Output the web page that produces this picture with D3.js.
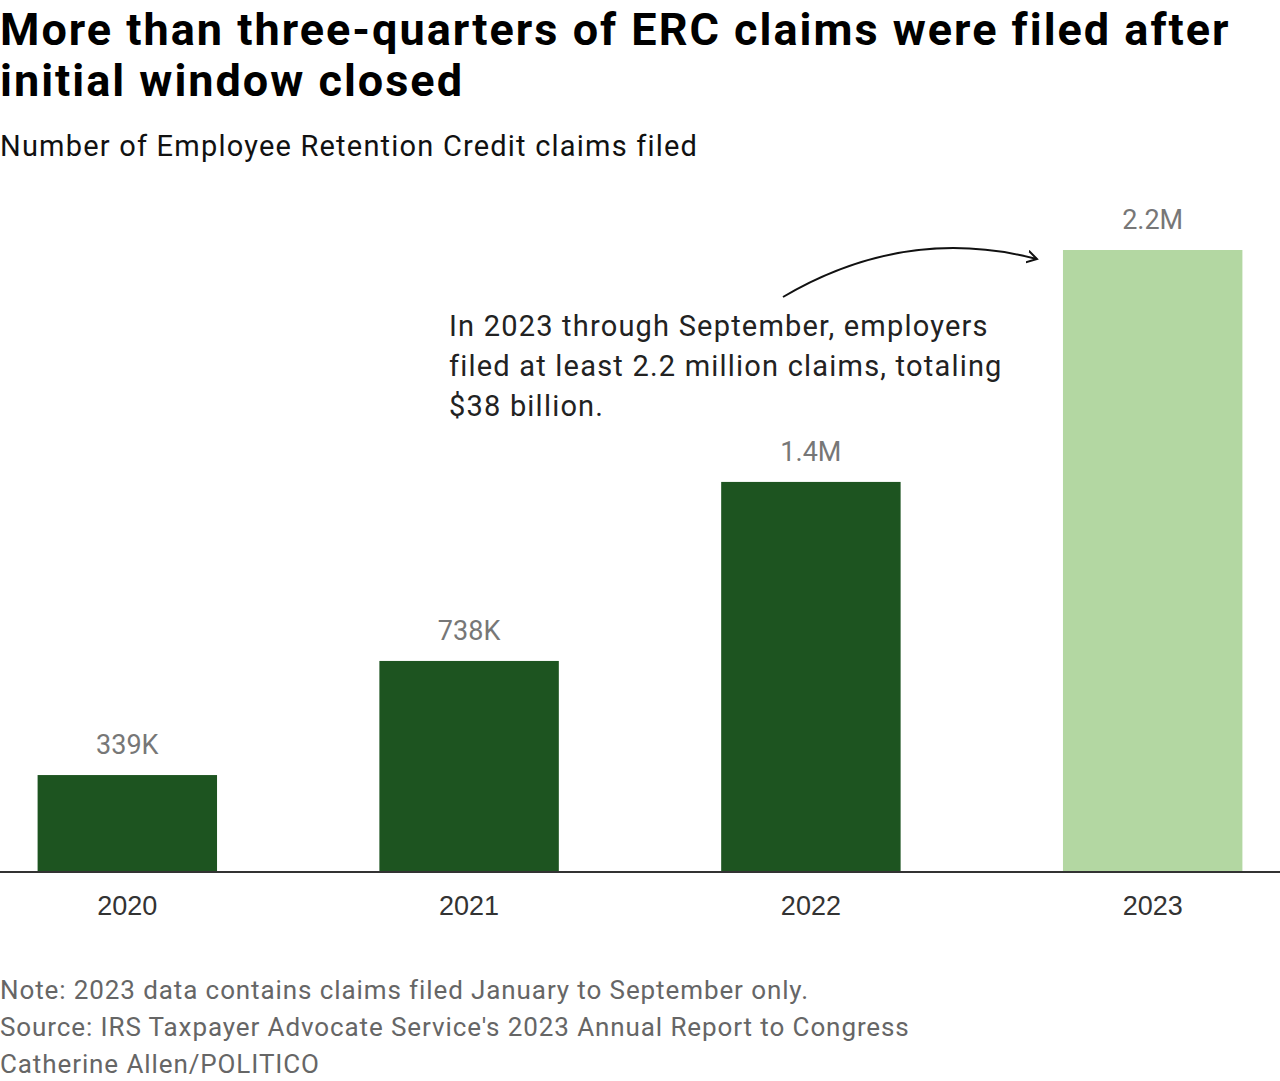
<!DOCTYPE html>
<html>
<head>
<meta charset="utf-8">
<script src="https://cdn.jsdelivr.net/npm/d3@7"></script>
<style>
  body { margin: 0; background: #fff; }
  svg { display: block; font-family: "Roboto", "DejaVu Sans Condensed", sans-serif; }
</style>
</head>
<body>
<div id="chart"></div>
<script>
"use strict"

// ERC claims by year

var years = ["2020", "2021", "2022", "2023"]
var claims = [339000, 738000, 1364000, 2175000]
var valueLabels = ["339K", "738K", "1.4M", "2.2M"]
var partial = [false, false, false, true]

var titleLines = [
  "More than three-quarters of ERC claims were filed after",
  "initial window closed"
]
var subtitle = "Number of Employee Retention Credit claims filed"
var noteLines = [
  "In 2023 through September, employers",
  "filed at least 2.2 million claims, totaling",
  "$38 billion."
]
var footerLines = [
  "Note: 2023 data contains claims filed January to September only.",
  "Source: IRS Taxpayer Advocate Service's 2023 Annual Report to Congress",
  "Catherine Allen/POLITICO"
]

var width = 1280
var height = 1081
var baseline = 872

var data = years.map(function(y, i) {
  return { year: y, value: claims[i], label: valueLabels[i], partial: partial[i] }
})

var x = d3.scaleBand()
  .domain(years)
  .range([0, width])
  .paddingInner(0.475)
  .paddingOuter(0.11)

var y = d3.scaleLinear()
  .domain([0, 2175000])
  .range([baseline, 250])

var svg = d3.select("#chart").append("svg")
  .attr("width", width)
  .attr("height", height)

svg.append("g")
  .selectAll("text")
  .data(titleLines)
  .enter().append("text")
    .attr("x", 0)
    .attr("y", function(d, i) { return 45 + i * 51 })
    .attr("font-size", 45)
    .attr("font-weight", 700)
    .attr("letter-spacing", 2)
    .attr("fill", "#000")
    .text(function(d) { return d })

svg.append("text")
  .attr("x", 0)
  .attr("y", 156)
  .attr("font-size", 29)
  .attr("letter-spacing", 1.2)
  .attr("fill", "#111")
  .text(subtitle)

svg.append("g")
  .selectAll("rect")
  .data(data)
  .enter().append("rect")
    .attr("x", function(d) { return x(d.year) })
    .attr("y", function(d) { return y(d.value) })
    .attr("width", x.bandwidth())
    .attr("height", function(d) { return baseline - y(d.value) })
    .attr("fill", function(d) { return d.partial ? "#b3d7a2" : "#1d5420" })

svg.append("g")
  .selectAll("text")
  .data(data)
  .enter().append("text")
    .attr("x", function(d) { return x(d.year) + x.bandwidth() / 2 })
    .attr("y", function(d) { return y(d.value) - 21 })
    .attr("text-anchor", "middle")
    .attr("font-size", 27)
    .attr("fill", "#777")
    .text(function(d) { return d.label })

var axis = svg.append("g")
  .attr("transform", "translate(0," + baseline + ")")
  .call(d3.axisBottom(x).tickSize(0).tickPadding(24))
axis.select(".domain")
  .attr("d", "M0,0H" + width)
  .attr("stroke", "#333")
  .attr("stroke-width", 2)
axis.selectAll("text")
  .attr("font-size", 27)
  .attr("font-family", null)
  .attr("fill", "#333")

svg.append("g")
  .selectAll("text")
  .data(noteLines)
  .enter().append("text")
    .attr("x", 449)
    .attr("y", function(d, i) { return 336 + i * 40 })
    .attr("font-size", 29)
    .attr("letter-spacing", 1.2)
    .attr("fill", "#222")
    .text(function(d) { return d })

svg.append("defs").append("marker")
    .attr("id", "head")
    .attr("viewBox", "0 -7 12 14")
    .attr("refX", 10)
    .attr("refY", 0)
    .attr("markerWidth", 12)
    .attr("markerHeight", 14)
    .attr("markerUnits", "userSpaceOnUse")
    .attr("orient", "auto")
  .append("path")
    .attr("d", "M0,-6L10,0L0,6")
    .attr("fill", "none")
    .attr("stroke", "#111")
    .attr("stroke-width", 2)

var arrowEnd = [x("2023") - 26, y(2175000) + 9]
var arrowStart = [783, 297]
svg.append("path")
  .attr("d", "M" + arrowStart + "Q" + [905, 225] + " " + arrowEnd)
  .attr("fill", "none")
  .attr("stroke", "#111")
  .attr("stroke-width", 2)
  .attr("marker-end", "url(#head)")

svg.append("g")
  .selectAll("text")
  .data(footerLines)
  .enter().append("text")
    .attr("x", 0)
    .attr("y", function(d, i) { return 999 + i * 37 })
    .attr("font-size", 26)
    .attr("letter-spacing", 0.9)
    .attr("fill", "#666")
    .text(function(d) { return d })
</script>
</body>
</html>
